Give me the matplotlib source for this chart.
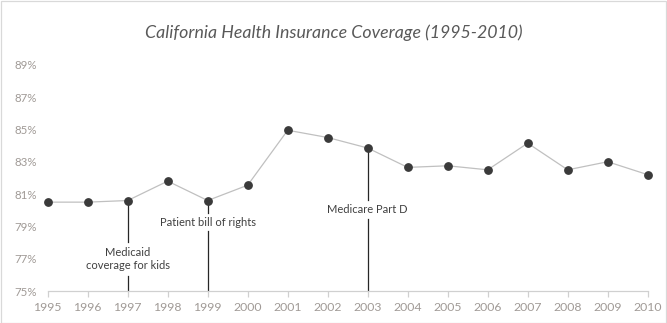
import matplotlib
matplotlib.use("Agg")
import matplotlib.pyplot as plt
from matplotlib.patches import Rectangle

plt.rcParams['font.family'] = ['Lato', 'DejaVu Sans']

years = [1995, 1996, 1997, 1998, 1999, 2000, 2001, 2002,
         2003, 2004, 2005, 2006, 2007, 2008, 2009, 2010]
coverage = [80.5, 80.5, 80.6, 81.8, 80.6, 81.55, 84.95, 84.5,
            83.85, 82.65, 82.75, 82.5, 84.15, 82.5, 83.0, 82.2]
y_ticks = [75, 77, 79, 81, 83, 85, 87, 89]

# events: year, label, label height (%), gap half-height (%)
event_years = [1997, 1999, 2003]
event_labels = ["Medicaid\ncoverage for kids", "Patient bill of rights", "Medicare Part D"]
event_label_y = [77.0, 79.25, 80.05]
event_gap = [1.05, 0.55, 0.6]

fig = plt.figure(figsize=(6.67, 3.23), dpi=100)
ax = fig.add_axes([47.7 / 667, 32 / 323, 600 / 667, 226.2 / 323])

ax.plot(years, coverage, color='#C0C0C0', lw=0.9, zorder=2,
        marker='o', markersize=5.3, markerfacecolor='#3A3A3A',
        markeredgecolor='#3A3A3A', clip_on=False)

for yr, lab, ly, gap in zip(event_years, event_labels, event_label_y, event_gap):
    val = coverage[years.index(yr)]
    top = ly + gap
    if top < val:
        ax.plot([yr, yr], [val, top], color='#262626', lw=0.9, zorder=1)
    ax.plot([yr, yr], [75, ly - gap], color='#262626', lw=0.9, zorder=1)
    ax.text(yr, ly, lab, ha='center', va='center', fontsize=8,
            color='#404040', linespacing=1.25)

ax.set_xlim(1995, 2010)
ax.set_ylim(75, 89)
ax.set_xticks(years)
ax.set_xticklabels([str(y) for y in years])
ax.set_yticks(y_ticks)
ax.set_yticklabels([f"{v}%" for v in y_ticks])

for s in ['top', 'right', 'left']:
    ax.spines[s].set_visible(False)
ax.spines['bottom'].set_color('#D0D0D0')
ax.spines['bottom'].set_linewidth(0.9)
ax.tick_params(axis='x', colors='#D0D0D0', length=4, width=0.9,
               labelcolor='#A09A96', labelsize=8.8, pad=4)
ax.tick_params(axis='y', length=0, labelcolor='#A09A96', labelsize=8.3, pad=8)
ax.set_facecolor('none')

fig.text(0.5, 1 - 33 / 323, "California Health Insurance Coverage (1995-2010)",
         ha='center', va='center', fontsize=12.8, style='italic', color='#595959')

fig.patches.append(Rectangle((0.5 / 667, 0.5 / 323), 665.5 / 667, 321.5 / 323,
                             transform=fig.transFigure, fill=False,
                             edgecolor='#D9D9D9', lw=0.9))

fig.savefig('out.png', dpi=100)
